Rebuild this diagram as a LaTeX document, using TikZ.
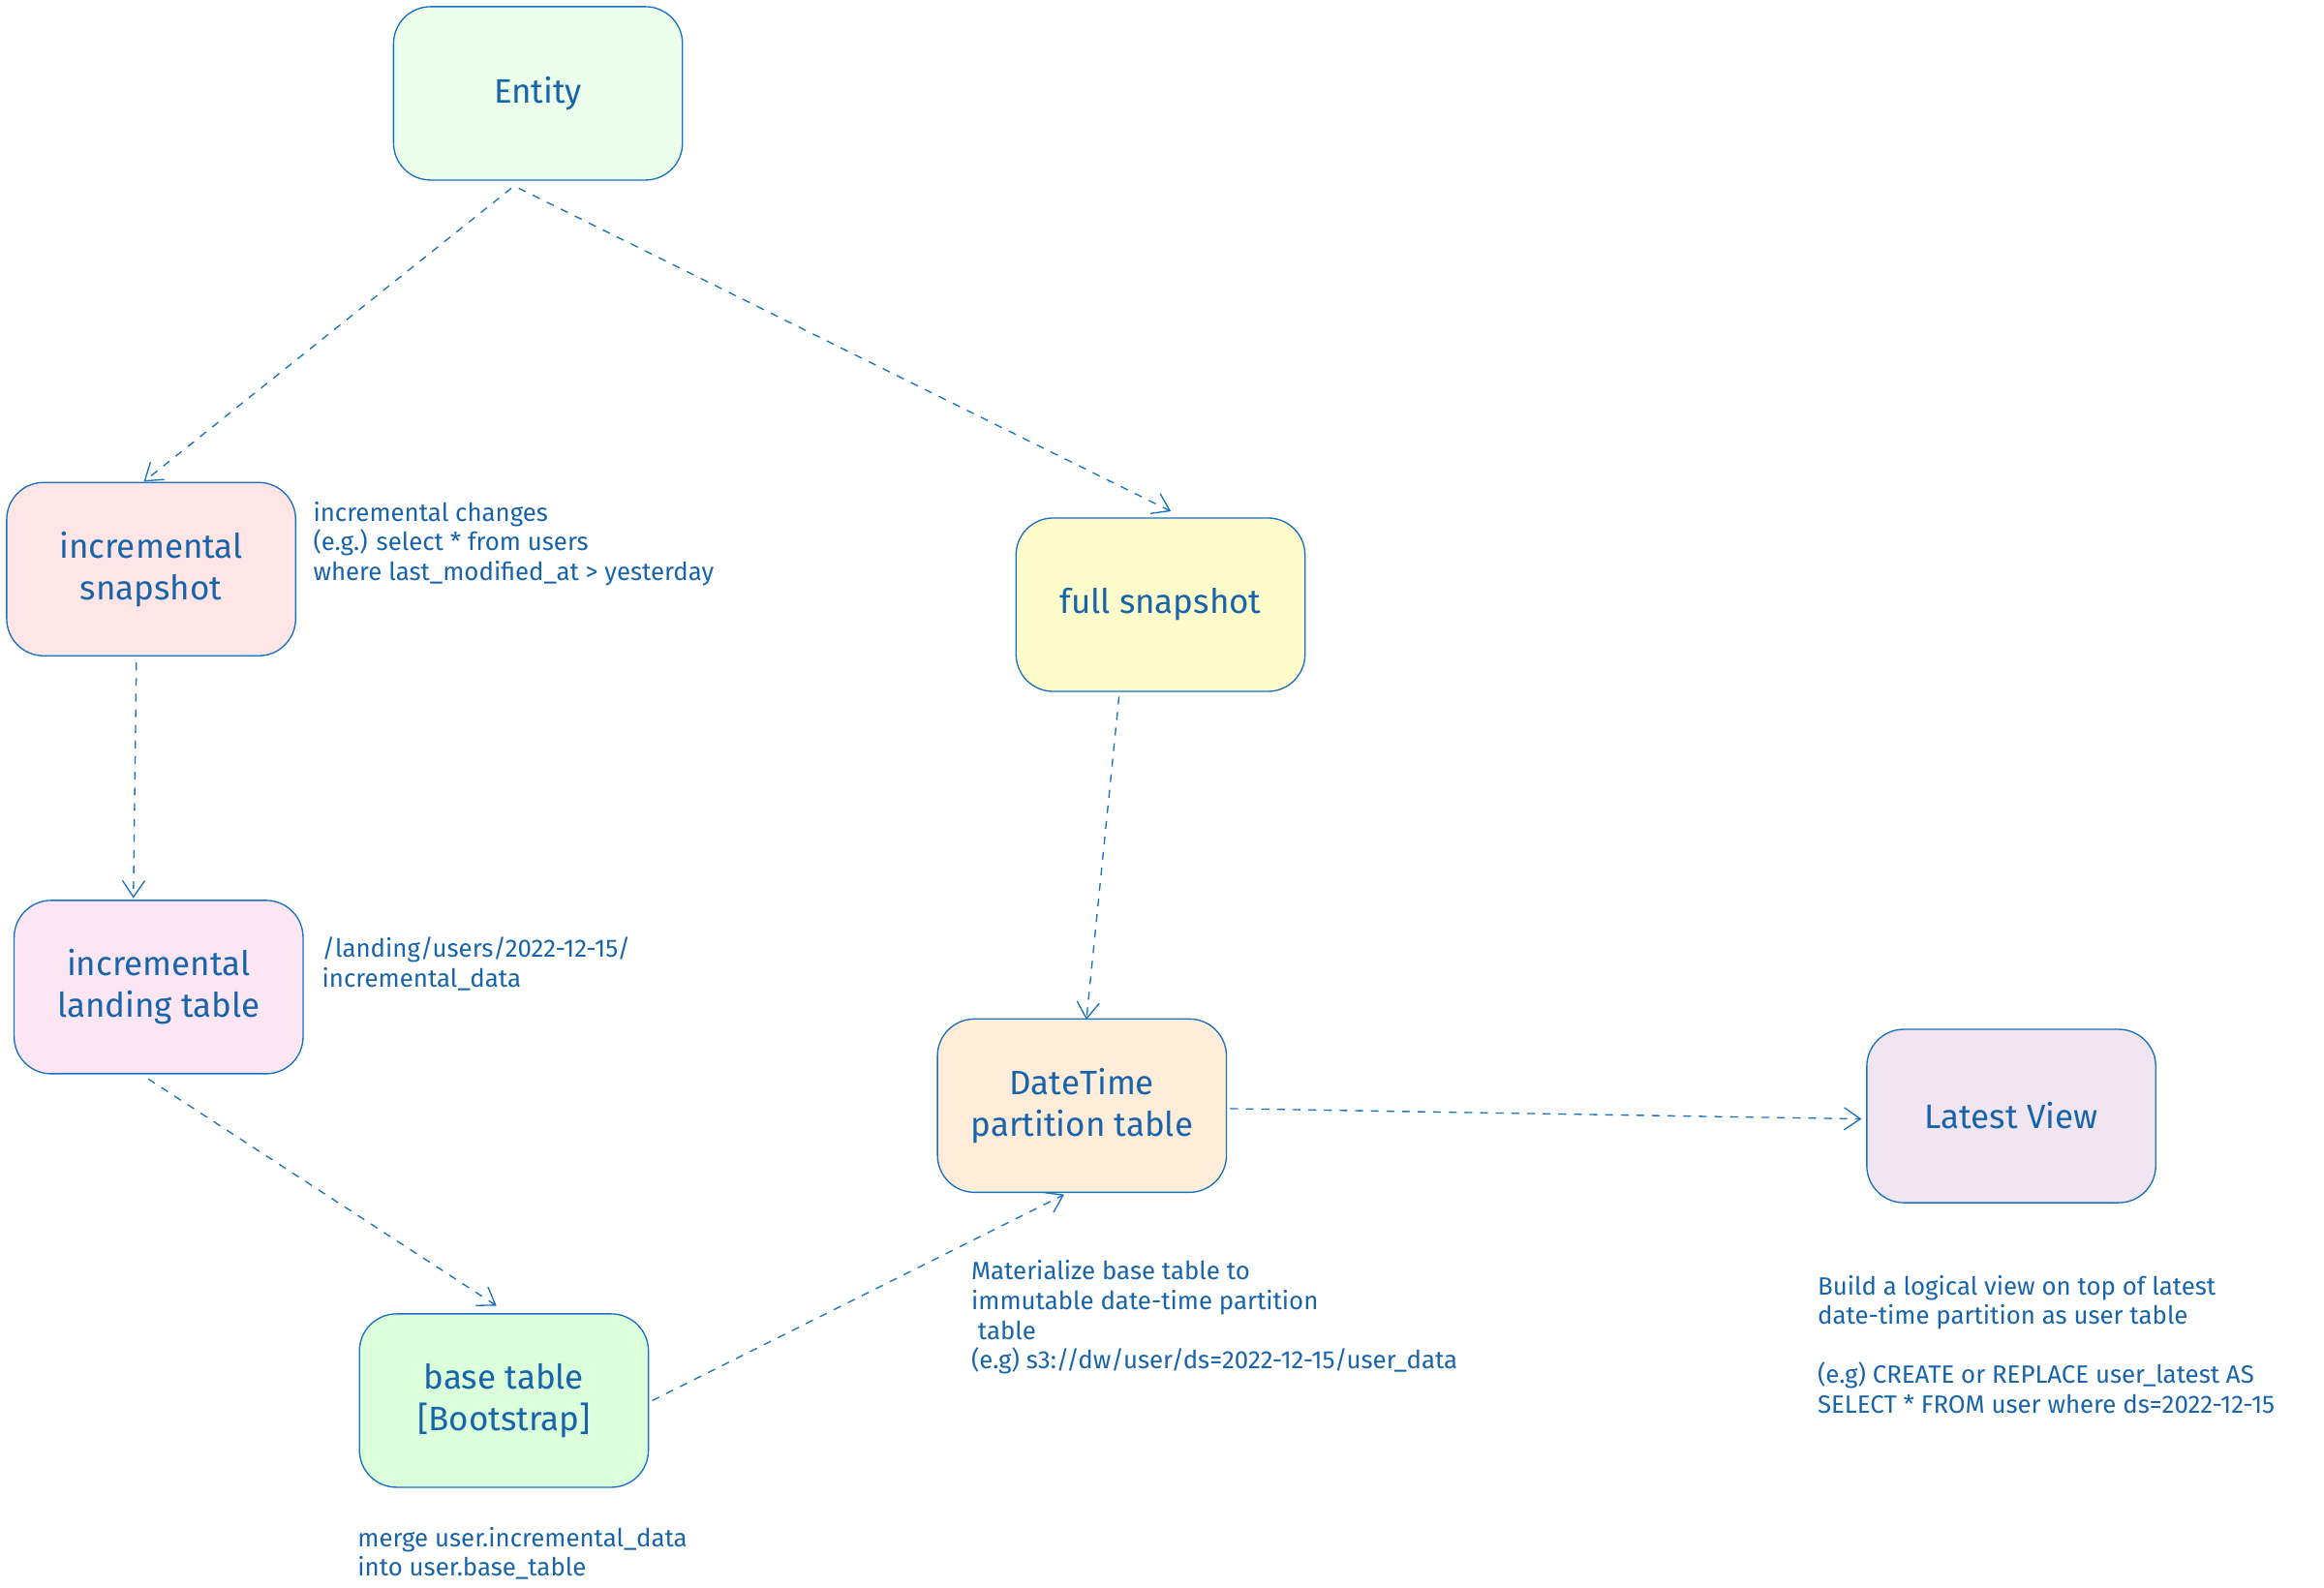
\documentclass[tikz,border=0pt]{standalone}
\usepackage{fontspec}
\setmainfont{Fira Sans}
\usetikzlibrary{arrows.meta}
\definecolor{ink}{HTML}{1864AB}
\definecolor{edge}{HTML}{1971C2}
\begin{document}
\begin{tikzpicture}[x=0.02cm,y=-0.02cm,
  box/.style={draw=edge,line width=0.5pt,rounded corners=0.5cm,minimum width=3.9cm,minimum height=2.34cm,align=center,text=ink,font=\fontsize{13}{16}\selectfont},
  conn/.style={draw=edge,line width=0.5pt,dashed,-{Straight Barb[length=2.2mm,width=3mm]}},
  note/.style={anchor=north west,align=left,text=ink,font=\fontsize{9.6}{11.4}\selectfont,inner sep=0pt}]
\useasboundingbox (0,0) rectangle (1568,1071);
\node[box,fill=green!8] (ent) at (363,63) {Entity};
\node[box,fill=red!10] (inc) at (102,384) {incremental\\snapshot};
\node[box,fill=yellow!20] (full) at (783,408) {full snapshot};
\node[box,fill=magenta!10] (land) at (107,666) {incremental\\landing table};
\node[box,fill=orange!15] (dt) at (730,746) {DateTime\\partition table};
\node[box,fill=violet!10] (lv) at (1357,753) {Latest View};
\node[box,fill=green!14] (base) at (340,945) {base table\\{[}Bootstrap{]}};
\coordinate (e1) at (345,127); \coordinate (e2) at (350,127);
\coordinate (i1) at (97,325); \coordinate (f1) at (790,345);
\coordinate (i2) at (92,447); \coordinate (l1) at (90,606);
\coordinate (f2) at (755,470); \coordinate (d1) at (733,688);
\coordinate (l2) at (100,728); \coordinate (b1) at (335,881);
\coordinate (b2) at (440,945); \coordinate (d2) at (718,806);
\coordinate (d3) at (830,748); \coordinate (v1) at (1256,755);
\draw[conn] (e1) -- (i1);
\draw[conn] (e2) -- (f1);
\draw[conn] (i2) -- (l1);
\draw[conn] (f2) -- (d1);
\draw[conn] (l2) -- (b1);
\draw[conn] (b2) -- (d2);
\draw[conn] (d3) -- (v1);
\node[note] (n1) at (211,338) {incremental changes\\(e.g.) select * from users\\where last\_modified\_at > yesterday};
\node[note] (n2) at (217,632) {/landing/users/2022-12-15/\\incremental\_data};
\node[note] (n3) at (655,850) {Materialize base table to\\immutable date-time partition\\\ table\\(e.g) s3://dw/user/ds=2022-12-15/user\_data};
\node[note] (n4) at (1226,860) {Build a logical view on top of latest\\date-time partition as user table\\[11.4pt](e.g) CREATE or REPLACE user\_latest AS\\SELECT * FROM user where ds=2022-12-15};
\node[note] (n5) at (241,1030) {merge user.incremental\_data\\into user.base\_table};
\end{tikzpicture}
\end{document}
